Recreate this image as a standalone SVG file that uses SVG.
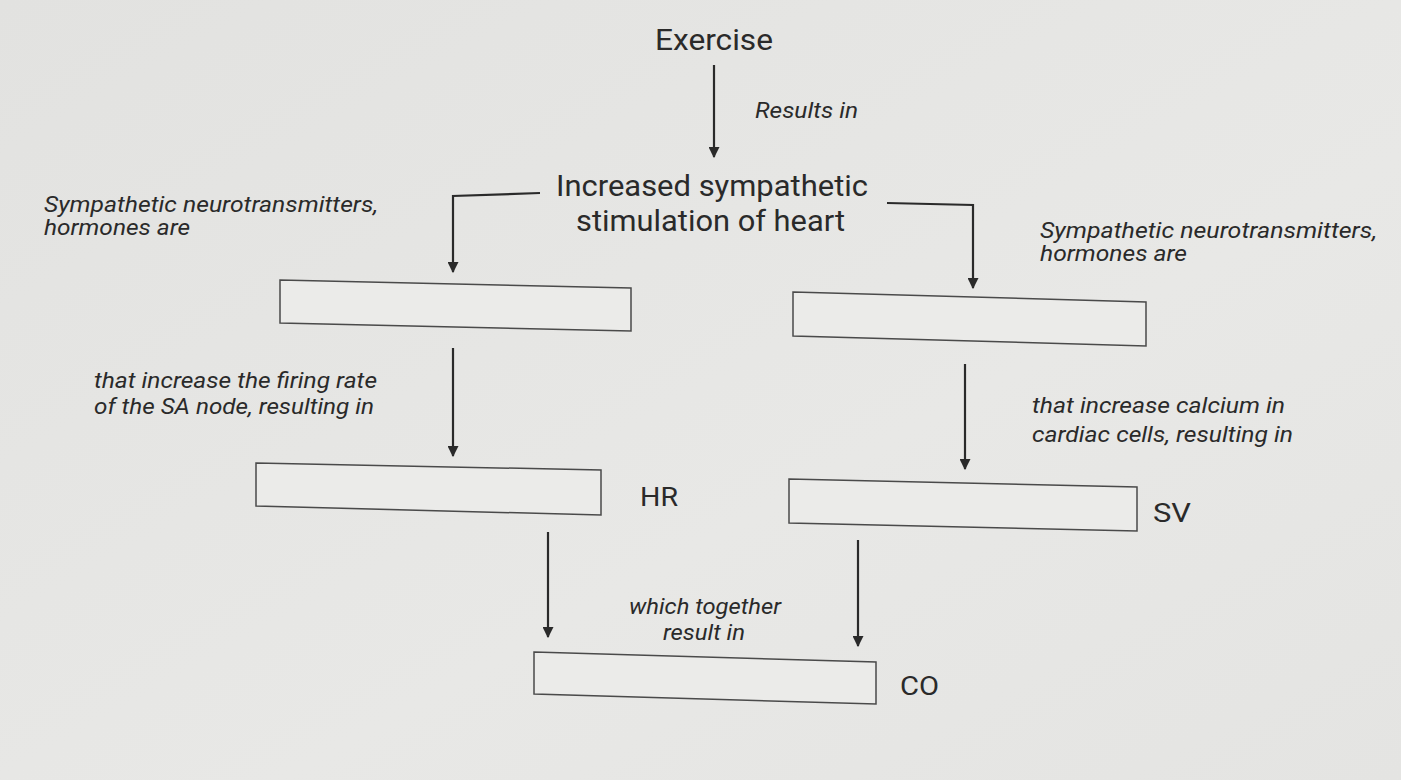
<svg xmlns="http://www.w3.org/2000/svg" width="1401" height="780" viewBox="0 0 1401 780">
<defs>
<linearGradient id="bg" x1="0" y1="0" x2="1" y2="1"><stop offset="0" stop-color="#e2e2e0"/><stop offset="0.6" stop-color="#e8e8e6"/><stop offset="1" stop-color="#e4e4e2"/></linearGradient>
<marker id="ah" viewBox="0 0 10 10" refX="9" refY="5" markerWidth="5" markerHeight="5" orient="auto"><path d="M0,0 L10,5 L0,10 z" fill="#2a2a2a"/></marker>
<style>
.t{font-family:Roboto,"Liberation Sans",sans-serif;fill:#2a2a2a}
.big{font-size:30px}.mid{font-size:26px}.it{font-size:22px;font-style:italic}
.box{fill:#ebebe9;stroke:#4a4a4a;stroke-width:1.5}
.c{fill:none;stroke:#2a2a2a;stroke-width:2.2;marker-end:url(#ah)}
</style>
</defs>
<rect width="1401" height="780" fill="url(#bg)"/>
<g id="connectors">
<path class="c" d="M714,65 V157"/>
<path class="c" d="M540,193 L453,196 V272"/>
<path class="c" d="M887,203 L973,205 V288"/>
<path class="c" d="M453,348 V456"/>
<path class="c" d="M965,364 V469"/>
<path class="c" d="M548,532 V637"/>
<path class="c" d="M858,540 V646"/>
</g>
<g id="exercise"><text class="t big" x="655" y="50" textLength="118" lengthAdjust="spacingAndGlyphs">Exercise</text></g>
<g id="results"><text class="t it" x="755" y="118" textLength="103" lengthAdjust="spacingAndGlyphs">Results in</text></g>
<g id="stim"><text class="t big" x="556" y="196" textLength="312" lengthAdjust="spacingAndGlyphs">Increased sympathetic</text><text class="t big" x="576" y="231" textLength="269" lengthAdjust="spacingAndGlyphs">stimulation of heart</text></g>
<g id="lbl1"><text class="t it" x="44" y="212" textLength="334" lengthAdjust="spacingAndGlyphs">Sympathetic neurotransmitters,</text><text class="t it" x="44" y="235" textLength="146" lengthAdjust="spacingAndGlyphs">hormones are</text></g>
<g id="lbl2"><text class="t it" x="1040" y="238" textLength="337" lengthAdjust="spacingAndGlyphs">Sympathetic neurotransmitters,</text><text class="t it" x="1040" y="261" textLength="147" lengthAdjust="spacingAndGlyphs">hormones are</text></g>
<g id="box1"><polygon class="box" points="280,280 631,288 631,331 280,323"/></g>
<g id="box2"><polygon class="box" points="793,292 1146,302 1146,346 793,336"/></g>
<g id="lbl3"><text class="t it" x="94" y="388" textLength="283" lengthAdjust="spacingAndGlyphs">that increase the firing rate</text><text class="t it" x="94" y="414" textLength="280" lengthAdjust="spacingAndGlyphs">of the SA node, resulting in</text></g>
<g id="lbl4"><text class="t it" x="1032" y="413" textLength="253" lengthAdjust="spacingAndGlyphs">that increase calcium in</text><text class="t it" x="1032" y="442" textLength="261" lengthAdjust="spacingAndGlyphs">cardiac cells, resulting in</text></g>
<g id="box3"><polygon class="box" points="256,463 601,470 601,515 256,506"/><text class="t mid" x="640" y="506" textLength="38" lengthAdjust="spacingAndGlyphs">HR</text></g>
<g id="box4"><polygon class="box" points="789,479 1137,487 1137,531 789,523"/><text class="t mid" x="1153" y="522" textLength="38" lengthAdjust="spacingAndGlyphs">SV</text></g>
<g id="lbl5"><text class="t it" x="629" y="614" textLength="152" lengthAdjust="spacingAndGlyphs">which together</text><text class="t it" x="663" y="640" textLength="82" lengthAdjust="spacingAndGlyphs">result in</text></g>
<g id="box5"><polygon class="box" points="534,652 876,662 876,704 534,694"/><text class="t mid" x="900" y="695" textLength="39" lengthAdjust="spacingAndGlyphs">CO</text></g>
</svg>
